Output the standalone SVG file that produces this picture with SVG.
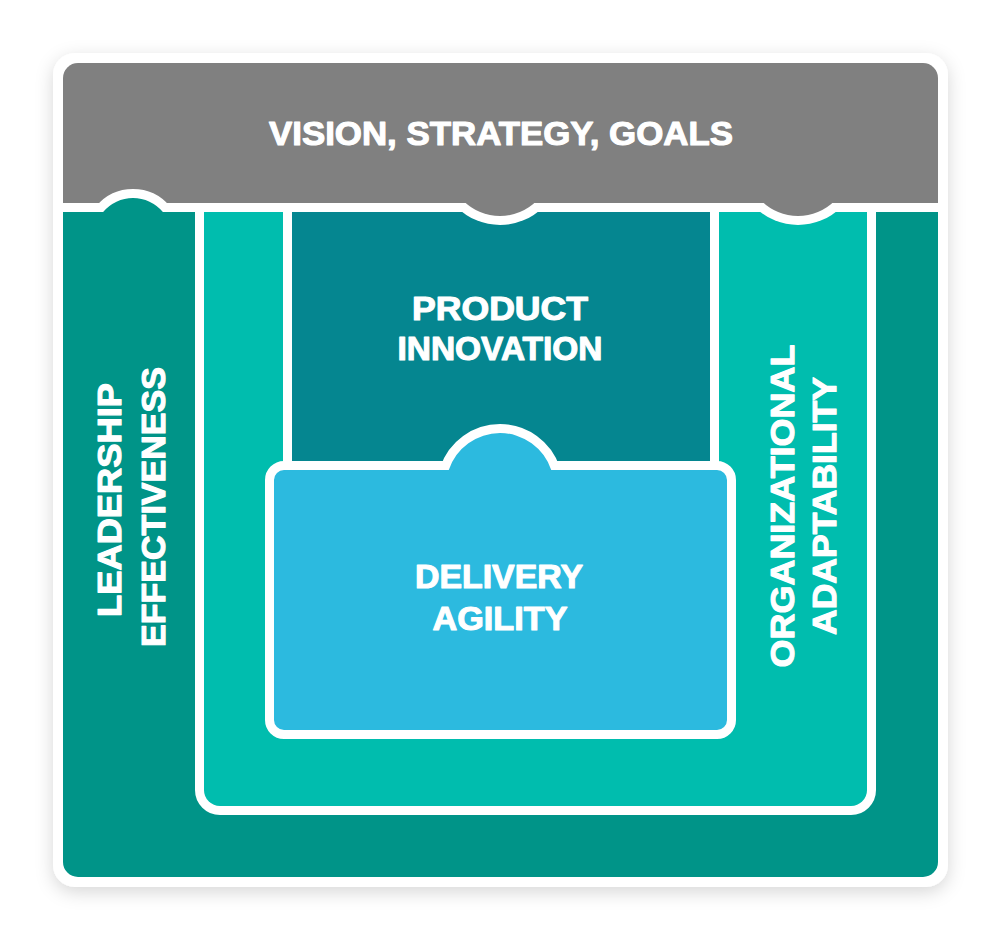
<svg xmlns="http://www.w3.org/2000/svg" width="1000" height="939" viewBox="0 0 1000 939">
  <defs>
    <filter id="shadow" x="-10%" y="-10%" width="120%" height="120%">
      <feDropShadow dx="0" dy="5" stdDeviation="9" flood-color="#000" flood-opacity="0.16"/>
    </filter>
    <clipPath id="belowBar">
      <rect x="0" y="203" width="1000" height="100"/>
    </clipPath>
    <style>
      .lbl { font-family: "Liberation Sans", Arial, sans-serif; font-weight: bold; font-size: 33px; fill: #ffffff; stroke: #ffffff; stroke-width: 1.1px; stroke-linejoin: round; text-anchor: middle; }
      .edge { stroke: #ffffff; stroke-width: 18px; paint-order: stroke; stroke-linejoin: round; }
    </style>
  </defs>

  <rect id="card" x="53" y="53" width="895" height="834" rx="22" ry="22" fill="#ffffff" filter="url(#shadow)"/>

  <g id="vision">
    <path d="M63,78 a15,15 0 0 1 15,-15 H923 a15,15 0 0 1 15,15 V212 H63 Z" fill="#808080"/>
  </g>

  <g id="leadership">
    <path class="edge" d="M63,212 H103.1 A39,39 0 0 1 162.9,212 H938 V862 a15,15 0 0 1 -15,15 H78 a15,15 0 0 1 -15,-15 Z" fill="#009488"/>
  </g>

  <g id="organizational">
    <path class="edge" d="M204,212 H867 V790 a16,16 0 0 1 -16,16 H220 a16,16 0 0 1 -16,-16 Z" fill="#00BDAE"/>
  </g>

  <g id="product">
    <rect class="edge" x="292" y="212" width="418" height="270" fill="#058690"/>
  </g>

  <g id="vision-tabs">
    <circle cx="500" cy="164" r="61" fill="#ffffff" clip-path="url(#belowBar)"/>
    <circle cx="500" cy="164" r="52" fill="#808080"/>
    <circle cx="798" cy="164" r="61" fill="#ffffff" clip-path="url(#belowBar)"/>
    <circle cx="798" cy="164" r="52" fill="#808080"/>
  </g>

  <g id="delivery">
    <path class="edge" d="M284,470 H448.75 A54,54 0 0 1 551.25,470 H717 a10,10 0 0 1 10,10 V720 a10,10 0 0 1 -10,10 H284 a10,10 0 0 1 -10,-10 V480 a10,10 0 0 1 10,-10 Z" fill="#2CBADF"/>
  </g>

  <g id="labels">
    <text class="lbl" x="501" y="145" textLength="464" lengthAdjust="spacingAndGlyphs">VISION, STRATEGY, GOALS</text>
    <text class="lbl" x="500" y="320" textLength="176" lengthAdjust="spacingAndGlyphs">PRODUCT</text>
    <text class="lbl" x="500" y="360" textLength="205" lengthAdjust="spacingAndGlyphs">INNOVATION</text>
    <text class="lbl" x="499" y="588" textLength="168" lengthAdjust="spacingAndGlyphs">DELIVERY</text>
    <text class="lbl" x="500" y="630" textLength="135" lengthAdjust="spacingAndGlyphs">AGILITY</text>
    <text class="lbl" transform="translate(121,500) rotate(-90)" textLength="234" lengthAdjust="spacingAndGlyphs">LEADERSHIP</text>
    <text class="lbl" transform="translate(165,507) rotate(-90)" textLength="280" lengthAdjust="spacingAndGlyphs">EFFECTIVENESS</text>
    <text class="lbl" transform="translate(794,506) rotate(-90)" textLength="323" lengthAdjust="spacingAndGlyphs">ORGANIZATIONAL</text>
    <text class="lbl" transform="translate(836,506) rotate(-90)" textLength="258" lengthAdjust="spacingAndGlyphs">ADAPTABILITY</text>
  </g>
</svg>
